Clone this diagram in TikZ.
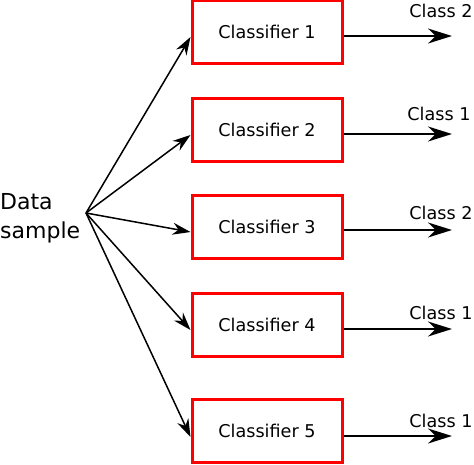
\documentclass[tikz,border=0pt]{standalone}
\usepackage{fontspec}
\setmainfont{DejaVu Sans}
\usetikzlibrary{arrows.meta}
\begin{document}
\begin{tikzpicture}[x=1pt,y=-1pt,
  clsbox/.style={draw=red,line width=3pt,minimum width=150pt,minimum height=63pt,inner sep=0pt,
    font=\fontsize{17.6}{20}\selectfont},
  clslabel/.style={inner sep=0pt,font=\fontsize{17.6}{20}\selectfont},
  fanarrow/.style={line width=1.5pt,-{Stealth[length=18pt,width=12pt]}},
  outarrow/.style={line width=1.8pt,-{Stealth[length=24pt,width=15pt]}}]
\useasboundingbox (0,0) rectangle (474,464);
\node[anchor=north west,inner sep=0pt,align=left,font=\fontsize{22}{29}\selectfont] (ds) at (0,193) {Data\\sample};
\coordinate (src) at (86,213);
\node[clsbox] (b1) at (267,32) {Classifier 1};
\node[clsbox] (b2) at (267,130) {Classifier 2};
\node[clsbox] (b3) at (267,226.5) {Classifier 3};
\node[clsbox] (b4) at (267,325) {Classifier 4};
\node[clsbox] (b5) at (267,431) {Classifier 5};
\foreach \i/\d in {1/5,2/5,3/5.5,4/5,5/6}{
  \draw[fanarrow] (src) -- ([yshift=-\d pt]b\i.west);
}
\coordinate (o1) at (452,36);
\coordinate (o2) at (452,134);
\coordinate (o3) at (452,230);
\coordinate (o4) at (452,329);
\coordinate (o5) at (452,436);
\foreach \i in {1,...,5}{
  \draw[outarrow] (b\i.east |- o\i) -- (o\i);
}
\node[clslabel] (c1) at (441,10.5) {Class 2};
\node[clslabel] (c2) at (439,113.5) {Class 1};
\node[clslabel] (c3) at (441,213) {Class 2};
\node[clslabel] (c4) at (441,312.5) {Class 1};
\node[clslabel] (c5) at (441,421) {Class 1};
\end{tikzpicture}
\end{document}
